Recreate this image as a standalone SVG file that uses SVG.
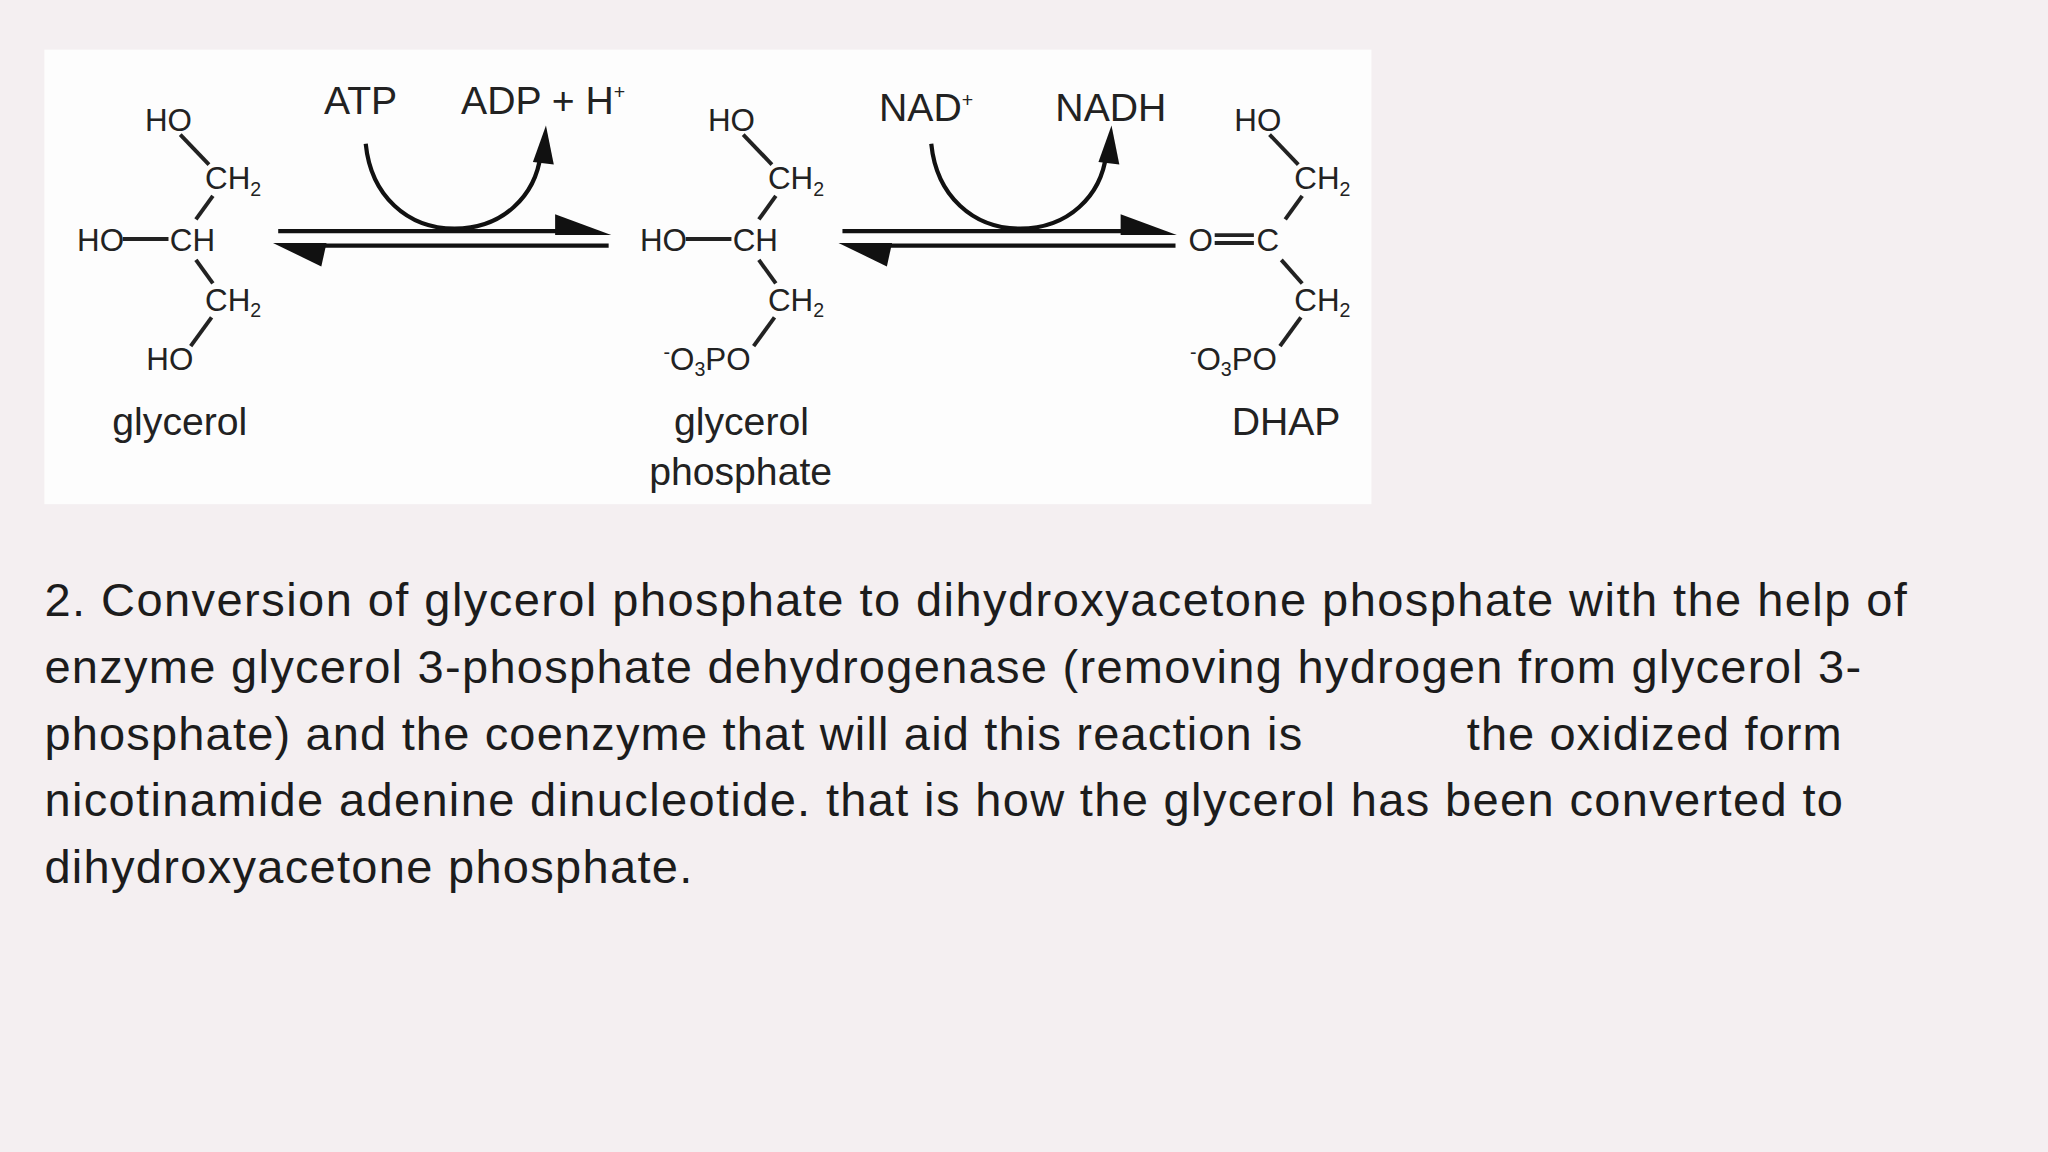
<svg xmlns="http://www.w3.org/2000/svg" width="2048" height="1152" viewBox="0 0 2048 1152">
<style>
.a{font-family:"Liberation Sans",Arial,sans-serif;font-size:24px;fill:#222}
.s{font-size:15px}
.l{font-family:"Liberation Sans",Arial,sans-serif;font-size:30px;fill:#222}
.p{font-family:"Liberation Sans",Arial,sans-serif;font-size:36px;fill:#1c1c1c}
.b{stroke:#222;stroke-width:3;fill:none}
.k{stroke:#111;stroke-width:3.2;fill:none}
</style>
<rect width="2048" height="1152" fill="#f4eff1"/>
<g transform="scale(1.30612)">
<rect x="34" y="38" width="1016" height="348" fill="#fdfdfd"/>
<g id="glycerol">
<text class="a" x="111" y="100">HO</text>
<line class="b" x1="138" y1="103" x2="160" y2="126"/>
<text class="a" x="157" y="145">CH<tspan class="s" dy="5">2</tspan></text>
<line class="b" x1="163" y1="150" x2="150" y2="168"/>
<text class="a" x="59" y="192">HO</text>
<line class="b" x1="94" y1="183" x2="129" y2="183"/>
<text class="a" x="130" y="192">CH</text>
<line class="b" x1="150" y1="199" x2="163" y2="217"/>
<text class="a" x="157" y="238">CH<tspan class="s" dy="5">2</tspan></text>
<line class="b" x1="162" y1="243" x2="146" y2="265"/>
<text class="a" x="112" y="283">HO</text>
<text class="l" x="86" y="333">glycerol</text>
</g>
<g id="glycerol-phosphate">
<text class="a" x="542" y="100">HO</text>
<line class="b" x1="569" y1="103" x2="591" y2="126"/>
<text class="a" x="588" y="145">CH<tspan class="s" dy="5">2</tspan></text>
<line class="b" x1="594" y1="150" x2="581" y2="168"/>
<text class="a" x="490" y="192">HO</text>
<line class="b" x1="525" y1="183" x2="560" y2="183"/>
<text class="a" x="561" y="192">CH</text>
<line class="b" x1="581" y1="199" x2="594" y2="217"/>
<text class="a" x="588" y="238">CH<tspan class="s" dy="5">2</tspan></text>
<line class="b" x1="593" y1="243" x2="577" y2="265"/>
<text class="a" x="508" y="283"><tspan class="s" dy="-8">-</tspan><tspan dy="8">O</tspan><tspan class="s" dy="5">3</tspan><tspan dy="-5">PO</tspan></text>
<text class="l" x="516" y="333">glycerol</text>
<text class="l" x="497" y="371">phosphate</text>
</g>
<g id="dhap">
<text class="a" x="945" y="100">HO</text>
<line class="b" x1="972" y1="103" x2="994" y2="126"/>
<text class="a" x="991" y="145">CH<tspan class="s" dy="5">2</tspan></text>
<line class="b" x1="997" y1="150" x2="984" y2="168"/>
<text class="a" x="910" y="192">O</text>
<line class="b" x1="930" y1="180" x2="960" y2="180"/>
<line class="b" x1="930" y1="186" x2="960" y2="186"/>
<text class="a" x="962" y="192">C</text>
<line class="b" x1="981" y1="199" x2="997" y2="217"/>
<text class="a" x="991" y="238">CH<tspan class="s" dy="5">2</tspan></text>
<line class="b" x1="996" y1="243" x2="980" y2="265"/>
<text class="a" x="911" y="283"><tspan class="s" dy="-8">-</tspan><tspan dy="8">O</tspan><tspan class="s" dy="5">3</tspan><tspan dy="-5">PO</tspan></text>
<text class="l" x="943" y="333">DHAP</text>
</g>
<g id="cofactors">
<text class="l" x="248" y="87">ATP</text>
<text class="l" x="353" y="87">ADP + H<tspan class="s" dy="-11">+</tspan></text>
<text class="l" x="673" y="93">NAD<tspan class="s" dy="-11">+</tspan></text>
<text class="l" x="808" y="93">NADH</text>
</g>
<g id="connectors">
<line class="k" x1="213" y1="177" x2="445" y2="177"/>
<path d="M425,164 L468,180 L425,180 Z" fill="#111"/>
<line class="k" x1="236" y1="188" x2="466" y2="188"/>
<path d="M209,186 L250,186 L246,204 Z" fill="#111"/>
<path class="k" d="M280,110 C284,150 312,175 348,175 C385,175 410,150 414,118"/>
<path d="M408,124 L418,96 L424,126 Z" fill="#111"/>
<line class="k" x1="645" y1="177" x2="878" y2="177"/>
<path d="M858,164 L901,180 L858,180 Z" fill="#111"/>
<line class="k" x1="668" y1="188" x2="900" y2="188"/>
<path d="M642,186 L683,186 L679,204 Z" fill="#111"/>
<path class="k" d="M713,110 C717,150 745,175 781,175 C818,175 843,150 847,118"/>
<path d="M841,124 L851,96 L857,126 Z" fill="#111"/>
</g>
<g id="paragraph" xml:space="preserve">
<text class="p" x="34" y="472" textLength="1426" lengthAdjust="spacing">2. Conversion of glycerol phosphate to dihydroxyacetone phosphate with the help  of</text>
<text class="p" x="34" y="523" textLength="1391" lengthAdjust="spacing">enzyme glycerol 3-phosphate dehydrogenase (removing hydrogen from glycerol  3-</text>
<text class="p" x="34" y="574" textLength="963" lengthAdjust="spacing">phosphate) and the coenzyme that will aid this reaction is</text>
<text class="p" x="1123" y="574" textLength="287" lengthAdjust="spacing">the oxidized form</text>
<text class="p" x="34" y="625" textLength="1377" lengthAdjust="spacing">nicotinamide adenine dinucleotide. that is how the glycerol has been converted to</text>
<text class="p" x="34" y="676" textLength="496" lengthAdjust="spacing">dihydroxyacetone phosphate.</text>
</g>
</g>
</svg>
